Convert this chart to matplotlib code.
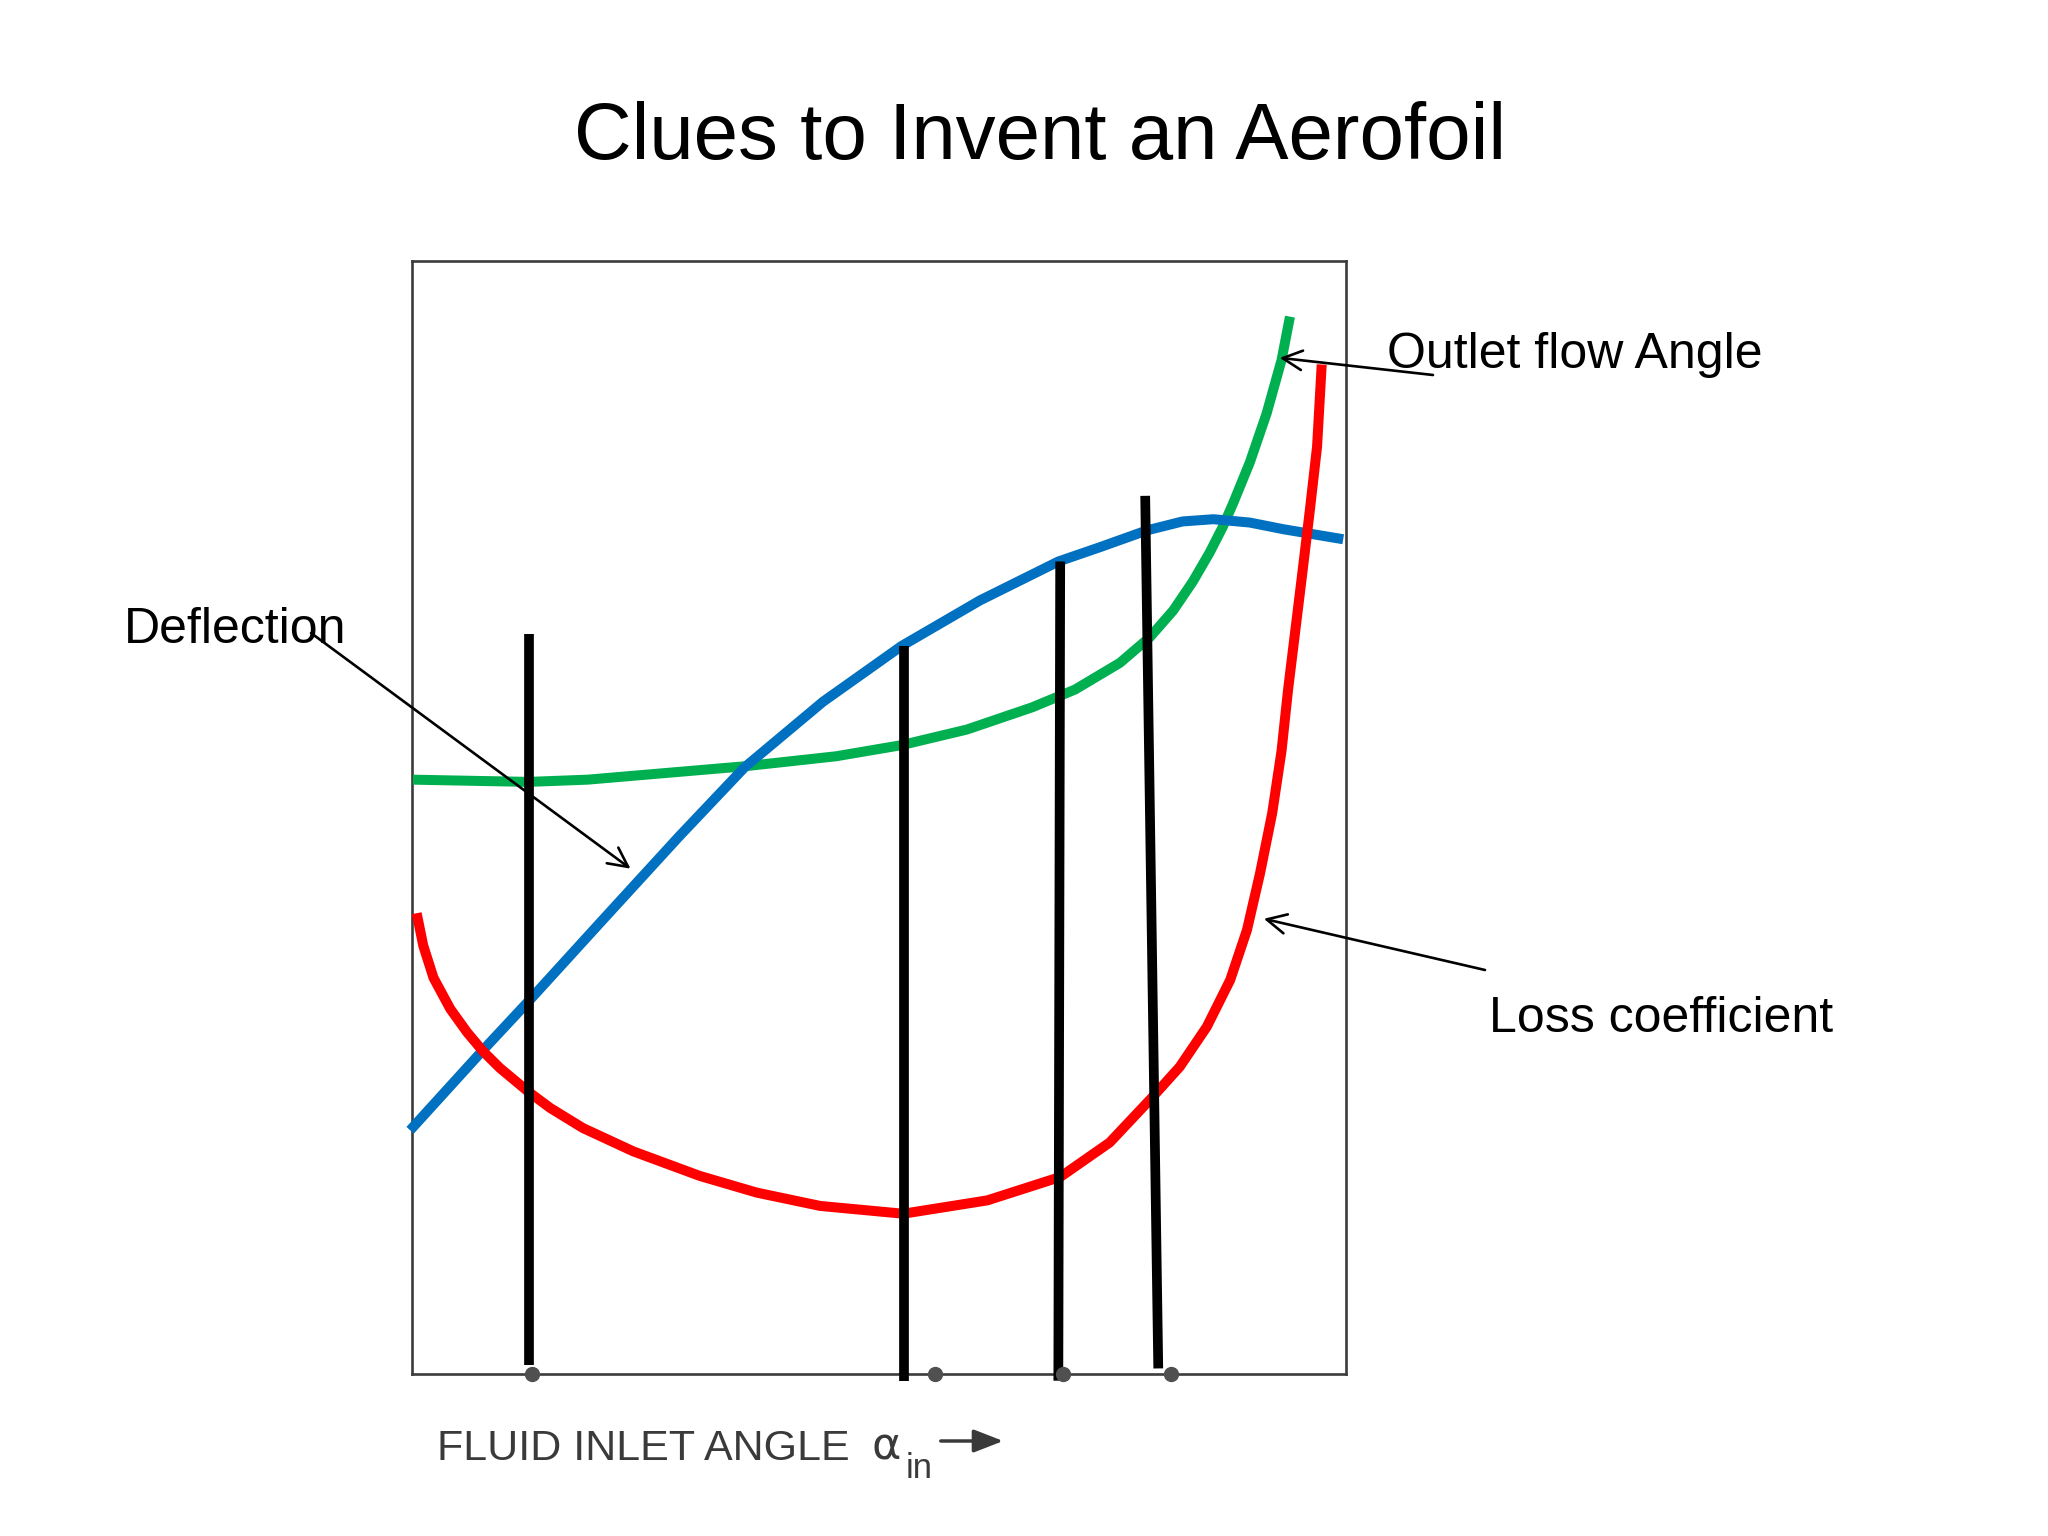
import matplotlib
matplotlib.use("Agg")
import matplotlib.pyplot as plt
from matplotlib.patches import FancyArrowPatch

# ---- data (arbitrary units: inlet angle 0-100, response 0-100) ----
outlet_x = [0.1, 6.2, 12.5, 18.8, 25.8, 35.6, 45.4, 52.4, 59.4, 66.4, 71.0, 75.8,
            79.0, 81.5, 83.6, 85.4, 86.8, 87.9, 89.7, 91.5, 93.1, 94.0]
outlet_y = [53.4, 53.3, 53.2, 53.4, 53.9, 54.6, 55.5, 56.5, 57.9, 59.9, 61.5, 63.9,
            66.2, 68.6, 71.2, 73.8, 76.1, 78.2, 81.9, 86.3, 91.1, 95.0]

deflection_x = [-0.2, 7.6, 12.6, 20.2, 28.6, 35.6, 44.0, 52.4, 60.8, 69.2, 73.7,
                78.7, 82.5, 85.8, 89.7, 93.3, 99.7]
deflection_y = [21.9, 29.1, 33.6, 40.6, 48.3, 54.5, 60.4, 65.4, 69.5, 73.0, 74.3,
                75.8, 76.6, 76.8, 76.5, 75.9, 75.0]

loss_x = [0.5, 1.2, 2.3, 4.1, 5.9, 7.6, 9.4, 12.4, 14.8, 18.3, 23.7, 30.8, 36.9, 43.7,
          52.6, 61.6, 69.4, 74.7, 79.3, 82.2, 85.1, 87.6, 89.4, 90.8, 92.1, 93.1,
          93.8, 94.5, 95.3, 96.1, 96.9, 97.4]
loss_y = [41.4, 38.5, 35.6, 32.8, 30.7, 29.0, 27.5, 25.4, 23.9, 22.1, 20.0, 17.8, 16.3, 15.1,
          14.4, 15.6, 17.7, 20.8, 24.9, 27.6, 31.2, 35.4, 39.9, 45.0, 50.4, 56.0,
          61.5, 66.3, 71.8, 77.4, 83.3, 90.7]

# vertical marker lines: bottom x, top x, bottom y, top y
vline_x_bottom = [12.5, 52.7, 69.2, 79.9]
vline_x_top = [12.5, 52.7, 69.4, 78.5]
vline_y_bottom = [0.8, -0.6, -0.6, 0.5]
vline_y_top = [66.5, 65.4, 73.0, 78.9]

# dots on the inlet-angle axis
dot_x = [12.9, 56.0, 69.7, 81.3]
dot_y = [0, 0, 0, 0]

title = "Clues to Invent an Aerofoil"
xlabel = "FLUID INLET ANGLE"
labels = ["Deflection", "Outlet flow Angle", "Loss coefficient"]

# ---- figure ----
W, H = 2048, 1536
fig = plt.figure(figsize=(W / 100, H / 100), dpi=100)
fig.patch.set_facecolor("white")
ax = fig.add_axes([412 / W, 1 - 1374 / H, 934 / W, 1113 / H])
ax.set_xlim(0, 100)
ax.set_ylim(0, 100)
ax.set_xticks([])
ax.set_yticks([])
for s in ax.spines.values():
    s.set_color("#3c3c3c")
    s.set_linewidth(1.9)

lw = 7.2
for xs, ys, c in [(outlet_x, outlet_y, "#00B050"),
                  (deflection_x, deflection_y, "#0070C0"),
                  (loss_x, loss_y, "#FF0000")]:
    ax.plot(xs, ys, color=c, lw=lw, solid_capstyle="butt",
            solid_joinstyle="round", zorder=3, clip_on=False)

for xb, xt, yb, yt in zip(vline_x_bottom, vline_x_top, vline_y_bottom, vline_y_top):
    ax.plot([xb, xt], [yb, yt], color="black", lw=7.0, solid_capstyle="butt",
            zorder=4, clip_on=False)

ax.plot(dot_x, dot_y, "o", color="#505050", ms=10, zorder=5, clip_on=False)

# ---- texts ----
font = ["Liberation Sans", "DejaVu Sans"]
fig.text(0.508, 1 - 159 / H, title, ha="center", va="baseline", fontsize=57.5,
         family=font, color="black")

fig.text(124 / W, 1 - 643 / H, labels[0], ha="left", va="baseline", fontsize=36,
         family=font)
fig.text(1387 / W, 1 - 368 / H, labels[1], ha="left", va="baseline", fontsize=36,
         family=font)
fig.text(1489 / W, 1 - 1032 / H, labels[2], ha="left", va="baseline", fontsize=36,
         family=font)

arrow_kw = dict(arrowstyle="->,head_length=0.7,head_width=0.35", lw=1.9,
                color="black", mutation_scale=20, shrinkA=0, shrinkB=0)
ax.annotate("", xy=(23.4, 45.4), xycoords="data",
            xytext=(311 / W, 1 - 633 / H), textcoords="figure fraction",
            arrowprops=arrow_kw, annotation_clip=False)
ax.annotate("", xy=(92.9, 91.3), xycoords="data",
            xytext=(1433 / W, 1 - 375 / H), textcoords="figure fraction",
            arrowprops=arrow_kw, annotation_clip=False)
ax.annotate("", xy=(91.2, 40.9), xycoords="data",
            xytext=(1485 / W, 1 - 970 / H), textcoords="figure fraction",
            arrowprops=arrow_kw, annotation_clip=False)

# x label (scanned style)
gray = "#3a3a3a"
fig.text(437 / W, 1 - 1460 / H, xlabel, ha="left", va="baseline", fontsize=31,
         family=font, color=gray)
fig.text(872 / W, 1 - 1460 / H, "\u03b1", ha="left", va="baseline", fontsize=32,
         family=["DejaVu Sans"], color=gray)
fig.text(906 / W, 1 - 1478 / H, "in", ha="left", va="baseline", fontsize=25,
         family=font, color=gray)
fig.patches.append(FancyArrowPatch(
    (938 / W, 1 - 1441 / H), (1006 / W, 1 - 1441 / H), transform=fig.transFigure,
    arrowstyle="-|>,head_length=0.9,head_width=0.35", mutation_scale=20,
    lw=2.5, color=gray))

fig.savefig("out.png", dpi=100, facecolor="white")
